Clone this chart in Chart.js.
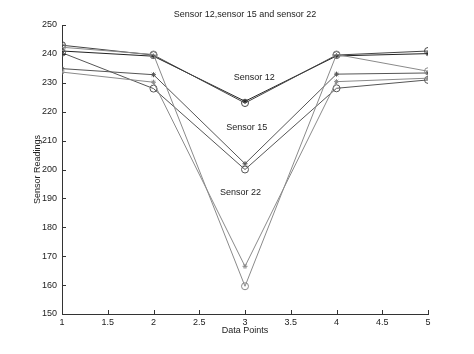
<!DOCTYPE html>
<html>
<head>
<meta charset="utf-8">
<script src="https://cdn.jsdelivr.net/npm/chart.js@4.4.1/dist/chart.umd.min.js"></script>
<style>
  html, body { margin: 0; padding: 0; background: #fff; }
  #wrap { width: 474px; height: 354px; position: relative; }
</style>
</head>
<body>
<div id="wrap"><canvas id="chart"></canvas></div>
<script>
// data
const dataPoints = [1, 2, 3, 4, 5];
const sensor12a = [243, 239.6, 223.0, 239.6, 241];
const sensor12b = [241, 239.2, 223.6, 239.3, 240.1];
const sensor15a = [234.9, 232.8, 202.0, 233.0, 233.4];
const sensor15b = [240.4, 228.0, 200.0, 228.1, 231.0];
const sensor22a = [242.3, 239.8, 159.6, 239.8, 234.0];
const sensor22b = [233.7, 230.2, 166.5, 230.4, 231.6];

const titleText = 'Sensor 12,sensor 15 and sensor 22';
const annotations = [
  { text: 'Sensor 12', x: 3.1, y: 232 },
  { text: 'Sensor 15', x: 3.02, y: 214.5 },
  { text: 'Sensor 22', x: 2.95, y: 192 }
];

const FONT = '"Liberation Sans", Arial, sans-serif';

function series(values, style, color) {
  return {
    data: dataPoints.map((x, i) => ({ x, y: values[i] })),
    borderColor: color,
    borderWidth: 1,
    pointStyle: style,
    pointRadius: style === 'circle' ? 3.5 : 2.5,
    pointBorderColor: color,
    pointBackgroundColor: 'rgba(0,0,0,0)',
    pointBorderWidth: 1,
    fill: false,
    tension: 0
  };
}

// matlab style inward ticks + free text
const extras = {
  id: 'extras',
  afterDraw(chart) {
    const { ctx, chartArea, scales } = chart;
    ctx.save();
    ctx.strokeStyle = '#333';
    ctx.lineWidth = 1;
    ctx.beginPath();
    scales.x.ticks.forEach(t => {
      const px = Math.round(scales.x.getPixelForValue(t.value)) + 0.5;
      ctx.moveTo(px, chartArea.bottom);
      ctx.lineTo(px, chartArea.bottom - 4);
    });
    scales.y.ticks.forEach(t => {
      const py = Math.round(scales.y.getPixelForValue(t.value)) + 0.5;
      ctx.moveTo(chartArea.left, py);
      ctx.lineTo(chartArea.left + 4, py);
    });
    ctx.stroke();

    ctx.fillStyle = '#222';
    ctx.textAlign = 'center';
    ctx.textBaseline = 'middle';
    ctx.font = '9px ' + FONT;
    ctx.fillText(titleText, (chartArea.left + chartArea.right) / 2, 15);
    ctx.fillText('Data Points', (chartArea.left + chartArea.right) / 2, 331);
    annotations.forEach(a => {
      ctx.fillText(a.text, scales.x.getPixelForValue(a.x), scales.y.getPixelForValue(a.y));
    });
    ctx.translate(38, (chartArea.top + chartArea.bottom) / 2);
    ctx.rotate(-Math.PI / 2);
    ctx.fillText('Sensor Readings', 0, 0);
    ctx.restore();
  }
};

new Chart(document.getElementById('chart'), {
  type: 'line',
  data: {
    datasets: [
      series(sensor22a, 'circle', '#8a8a8a'),
      series(sensor22b, 'star', '#8a8a8a'),
      series(sensor15a, 'star', '#555'),
      series(sensor15b, 'circle', '#555'),
      series(sensor12a, 'circle', '#444'),
      series(sensor12b, 'star', '#222')
    ]
  },
  options: {
    responsive: true,
    maintainAspectRatio: false,
    animation: false,
    layout: { padding: { left: 20, right: 46, top: 25, bottom: 0 } },
    plugins: {
      legend: { display: false },
      tooltip: { enabled: false }
    },
    scales: {
      x: {
        type: 'linear',
        min: 1,
        max: 5,
        ticks: {
          stepSize: 0.5,
          color: '#222',
          font: { family: FONT, size: 9 },
          padding: 3,
          maxRotation: 0,
          callback: v => String(v)
        },
        grid: { display: false, drawTicks: false },
        border: { display: true, color: '#333', width: 1 },
        afterFit(scale) { scale.height = 40; }
      },
      y: {
        min: 150,
        max: 250,
        ticks: {
          stepSize: 10,
          color: '#222',
          font: { family: FONT, size: 9 },
          padding: 5,
          callback: v => String(v)
        },
        grid: { display: false, drawTicks: false },
        border: { display: true, color: '#333', width: 1 },
        afterFit(scale) { scale.width = 42; }
      }
    }
  },
  plugins: [extras]
});
</script>
</body>
</html>
